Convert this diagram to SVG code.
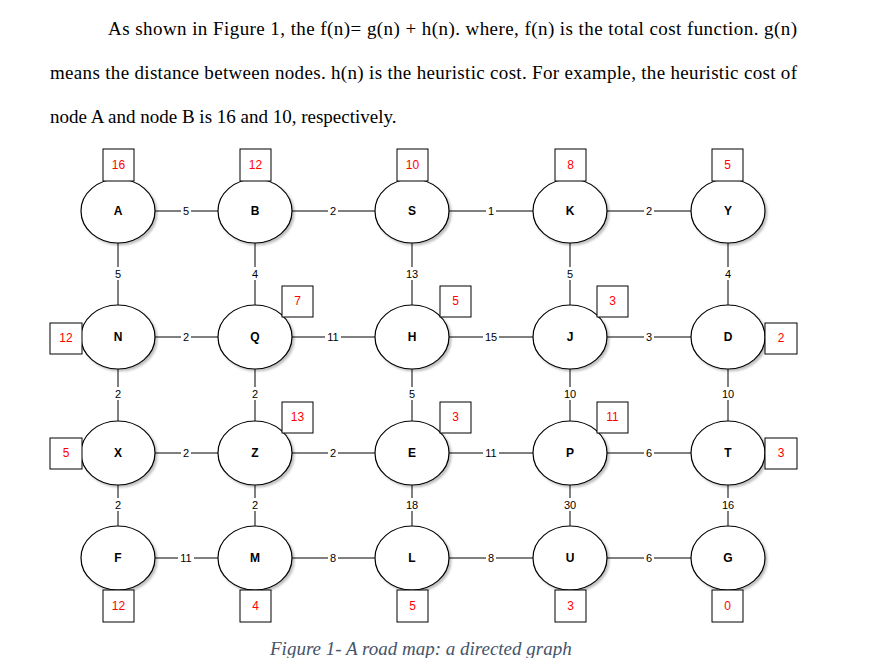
<svg xmlns="http://www.w3.org/2000/svg" width="894" height="658" viewBox="0 0 894 658">
<defs>
<filter id="sh" x="-20%" y="-20%" width="150%" height="150%"><feDropShadow dx="2" dy="2" stdDeviation="1" flood-color="#000" flood-opacity="0.25"/></filter>
</defs>
<style>
.p{font-family:"Liberation Serif",serif;font-size:19px;fill:#000}
.n ellipse{fill:#fff;stroke:#000;stroke-width:1.2;filter:url(#sh)}
.n text{font-family:"Liberation Sans",Arial,sans-serif;font-size:12px;font-weight:bold;text-anchor:middle}
.h rect{fill:#fff;stroke:#000;stroke-width:1}
.h text{font-family:"Liberation Sans",Arial,sans-serif;font-size:12px;fill:#ff0000;text-anchor:middle}
.e line{stroke:#000;stroke-width:1}
.e rect{fill:#fff}
.e text{font-family:"Liberation Sans",Arial,sans-serif;font-size:11px;fill:#000;text-anchor:middle}
</style>
<rect width="894" height="658" fill="#fff"/>
<text class="p" x="108" y="35" textLength="689" lengthAdjust="spacing">As shown in Figure 1, the f(n)= g(n) + h(n). where, f(n) is the total cost function. g(n)</text>
<text class="p" x="50" y="79" textLength="747" lengthAdjust="spacing">means the distance between nodes. h(n) is the heuristic cost. For example, the heuristic cost of</text>
<text class="p" x="50" y="123">node A and node B is 16 and 10, respectively.</text>
<text x="270" y="655" font-family="'Liberation Serif',serif" font-style="italic" font-size="19" fill="#44546a">Figure 1- A road map: a directed graph</text>
<g id="edges" class="e">
<line x1="155" y1="211" x2="218" y2="211"/><rect x="181" y="204" width="10" height="13"/><text x="186" y="215">5</text>
<line x1="292" y1="211" x2="375" y2="211"/><rect x="328" y="204" width="10" height="13"/><text x="333" y="215">2</text>
<line x1="449" y1="211" x2="533" y2="211"/><rect x="486" y="204" width="10" height="13"/><text x="491" y="215">1</text>
<line x1="607" y1="211" x2="691" y2="211"/><rect x="644" y="204" width="10" height="13"/><text x="649" y="215">2</text>
<line x1="155" y1="337" x2="218" y2="337"/><rect x="181" y="330" width="10" height="13"/><text x="186" y="341">2</text>
<line x1="292" y1="337" x2="375" y2="337"/><rect x="325" y="330" width="16" height="13"/><text x="333" y="341">11</text>
<line x1="449" y1="337" x2="533" y2="337"/><rect x="483" y="330" width="16" height="13"/><text x="491" y="341">15</text>
<line x1="607" y1="337" x2="691" y2="337"/><rect x="644" y="330" width="10" height="13"/><text x="649" y="341">3</text>
<line x1="155" y1="453" x2="218" y2="453"/><rect x="181" y="446" width="10" height="13"/><text x="186" y="457">2</text>
<line x1="292" y1="453" x2="375" y2="453"/><rect x="328" y="446" width="10" height="13"/><text x="333" y="457">2</text>
<line x1="449" y1="453" x2="533" y2="453"/><rect x="483" y="446" width="16" height="13"/><text x="491" y="457">11</text>
<line x1="607" y1="453" x2="691" y2="453"/><rect x="644" y="446" width="10" height="13"/><text x="649" y="457">6</text>
<line x1="155" y1="558" x2="218" y2="558"/><rect x="178" y="551" width="16" height="13"/><text x="186" y="562">11</text>
<line x1="292" y1="558" x2="375" y2="558"/><rect x="328" y="551" width="10" height="13"/><text x="333" y="562">8</text>
<line x1="449" y1="558" x2="533" y2="558"/><rect x="486" y="551" width="10" height="13"/><text x="491" y="562">8</text>
<line x1="607" y1="558" x2="691" y2="558"/><rect x="644" y="551" width="10" height="13"/><text x="649" y="562">6</text>
<line x1="118" y1="243" x2="118" y2="305"/><rect x="112" y="267" width="12" height="13"/><text x="118" y="278">5</text>
<line x1="255" y1="243" x2="255" y2="305"/><rect x="249" y="267" width="12" height="13"/><text x="255" y="278">4</text>
<line x1="412" y1="243" x2="412" y2="305"/><rect x="404" y="267" width="16" height="13"/><text x="412" y="278">13</text>
<line x1="570" y1="243" x2="570" y2="305"/><rect x="564" y="267" width="12" height="13"/><text x="570" y="278">5</text>
<line x1="728" y1="243" x2="728" y2="305"/><rect x="722" y="267" width="12" height="13"/><text x="728" y="278">4</text>
<line x1="118" y1="369" x2="118" y2="421"/><rect x="112" y="387" width="12" height="13"/><text x="118" y="398">2</text>
<line x1="255" y1="369" x2="255" y2="421"/><rect x="249" y="387" width="12" height="13"/><text x="255" y="398">2</text>
<line x1="412" y1="369" x2="412" y2="421"/><rect x="406" y="387" width="12" height="13"/><text x="412" y="398">5</text>
<line x1="570" y1="369" x2="570" y2="421"/><rect x="562" y="387" width="16" height="13"/><text x="570" y="398">10</text>
<line x1="728" y1="369" x2="728" y2="421"/><rect x="720" y="387" width="16" height="13"/><text x="728" y="398">10</text>
<line x1="118" y1="485" x2="118" y2="526"/><rect x="112" y="498" width="12" height="13"/><text x="118" y="509">2</text>
<line x1="255" y1="485" x2="255" y2="526"/><rect x="249" y="498" width="12" height="13"/><text x="255" y="509">2</text>
<line x1="412" y1="485" x2="412" y2="526"/><rect x="404" y="498" width="16" height="13"/><text x="412" y="509">18</text>
<line x1="570" y1="485" x2="570" y2="526"/><rect x="562" y="498" width="16" height="13"/><text x="570" y="509">30</text>
<line x1="728" y1="485" x2="728" y2="526"/><rect x="720" y="498" width="16" height="13"/><text x="728" y="509">16</text>
</g>
<g id="nA" class="n"><ellipse cx="118" cy="211" rx="37" ry="32"/><text x="118" y="215">A</text></g>
<g id="nB" class="n"><ellipse cx="255" cy="211" rx="37" ry="32"/><text x="255" y="215">B</text></g>
<g id="nS" class="n"><ellipse cx="412" cy="211" rx="37" ry="32"/><text x="412" y="215">S</text></g>
<g id="nK" class="n"><ellipse cx="570" cy="211" rx="37" ry="32"/><text x="570" y="215">K</text></g>
<g id="nY" class="n"><ellipse cx="728" cy="211" rx="37" ry="32"/><text x="728" y="215">Y</text></g>
<g id="nN" class="n"><ellipse cx="118" cy="337" rx="37" ry="32"/><text x="118" y="341">N</text></g>
<g id="nQ" class="n"><ellipse cx="255" cy="337" rx="37" ry="32"/><text x="255" y="341">Q</text></g>
<g id="nH" class="n"><ellipse cx="412" cy="337" rx="37" ry="32"/><text x="412" y="341">H</text></g>
<g id="nJ" class="n"><ellipse cx="570" cy="337" rx="37" ry="32"/><text x="570" y="341">J</text></g>
<g id="nD" class="n"><ellipse cx="728" cy="337" rx="37" ry="32"/><text x="728" y="341">D</text></g>
<g id="nX" class="n"><ellipse cx="118" cy="453" rx="37" ry="32"/><text x="118" y="457">X</text></g>
<g id="nZ" class="n"><ellipse cx="255" cy="453" rx="37" ry="32"/><text x="255" y="457">Z</text></g>
<g id="nE" class="n"><ellipse cx="412" cy="453" rx="37" ry="32"/><text x="412" y="457">E</text></g>
<g id="nP" class="n"><ellipse cx="570" cy="453" rx="37" ry="32"/><text x="570" y="457">P</text></g>
<g id="nT" class="n"><ellipse cx="728" cy="453" rx="37" ry="32"/><text x="728" y="457">T</text></g>
<g id="nF" class="n"><ellipse cx="118" cy="558" rx="37" ry="32"/><text x="118" y="562">F</text></g>
<g id="nM" class="n"><ellipse cx="255" cy="558" rx="37" ry="32"/><text x="255" y="562">M</text></g>
<g id="nL" class="n"><ellipse cx="412" cy="558" rx="37" ry="32"/><text x="412" y="562">L</text></g>
<g id="nU" class="n"><ellipse cx="570" cy="558" rx="37" ry="32"/><text x="570" y="562">U</text></g>
<g id="nG" class="n"><ellipse cx="728" cy="558" rx="37" ry="32"/><text x="728" y="562">G</text></g>
<g id="heuristics" class="h">
<g id="hA"><rect x="103" y="149" width="31" height="32"/><text x="118.5" y="169">16</text></g>
<g id="hB"><rect x="240" y="149" width="31" height="32"/><text x="255.5" y="169">12</text></g>
<g id="hS"><rect x="397" y="149" width="31" height="32"/><text x="412.5" y="169">10</text></g>
<g id="hK"><rect x="555" y="149" width="31" height="32"/><text x="570.5" y="169">8</text></g>
<g id="hY"><rect x="712" y="149" width="31" height="32"/><text x="727.5" y="169">5</text></g>
<g id="hQ"><rect x="282" y="286" width="31" height="31"/><text x="297.5" y="305">7</text></g>
<g id="hH"><rect x="440" y="286" width="31" height="31"/><text x="455.5" y="305">5</text></g>
<g id="hJ"><rect x="597" y="286" width="31" height="31"/><text x="612.5" y="305">3</text></g>
<g id="hN"><rect x="50" y="323" width="32" height="31"/><text x="66" y="342">12</text></g>
<g id="hD"><rect x="765" y="323" width="32" height="31"/><text x="781" y="342">2</text></g>
<g id="hZ"><rect x="282" y="402" width="31" height="31"/><text x="297.5" y="421">13</text></g>
<g id="hE"><rect x="440" y="402" width="31" height="31"/><text x="455.5" y="421">3</text></g>
<g id="hP"><rect x="597" y="402" width="31" height="31"/><text x="612.5" y="421">11</text></g>
<g id="hX"><rect x="50" y="438" width="32" height="31"/><text x="66" y="457">5</text></g>
<g id="hT"><rect x="765" y="438" width="32" height="31"/><text x="781" y="457">3</text></g>
<g id="hF"><rect x="103" y="590" width="31" height="32"/><text x="118.5" y="610">12</text></g>
<g id="hM"><rect x="240" y="590" width="31" height="32"/><text x="255.5" y="610">4</text></g>
<g id="hL"><rect x="397" y="590" width="31" height="32"/><text x="412.5" y="610">5</text></g>
<g id="hU"><rect x="555" y="590" width="31" height="32"/><text x="570.5" y="610">3</text></g>
<g id="hG"><rect x="712" y="590" width="31" height="32"/><text x="727.5" y="610">0</text></g>
</g>
</svg>
